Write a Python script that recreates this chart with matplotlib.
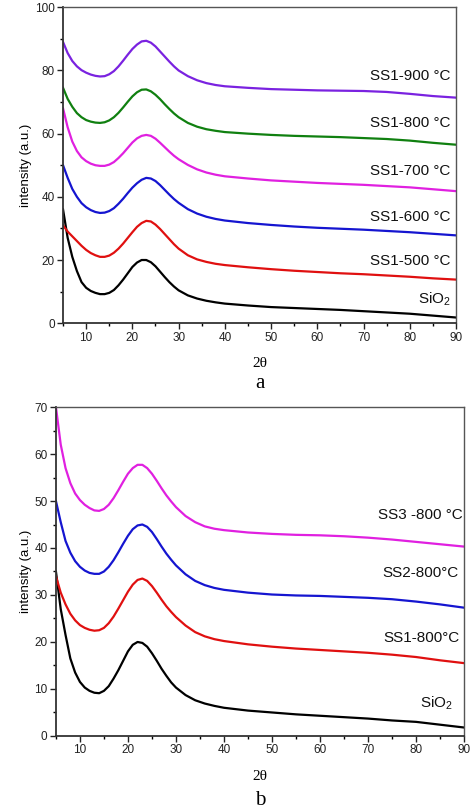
import matplotlib
matplotlib.use("Agg")
import matplotlib.pyplot as plt
from matplotlib.ticker import MultipleLocator

two_theta = [5, 6, 7, 8, 9, 10, 11, 12, 13, 14, 15, 16, 17, 18, 19, 20, 21, 22, 23, 24, 25,
             26, 27, 28, 29, 30, 32, 34, 36, 38, 40, 45, 50, 55, 60, 65, 70, 75, 80, 85, 90]

# Panel a
a_sio2 = [36, 27, 21, 16.5, 13, 11.2, 10.2, 9.6, 9.2, 9.2, 9.6, 10.5, 12, 13.8, 15.8, 17.8, 19.2, 20, 20, 19.3, 18,
          16.3, 14.6, 13, 11.6, 10.4, 8.8, 7.8, 7.1, 6.6, 6.2, 5.6, 5.1, 4.8, 4.5, 4.2, 3.8, 3.4, 3.0, 2.4, 1.8]
a_500 = [31, 29, 27.5, 26, 24.5, 23.2, 22.2, 21.5, 21, 21, 21.4, 22.3, 23.6, 25.2, 27, 28.8, 30.5, 31.7, 32.4, 32.2, 31.2,
         29.8, 28.2, 26.6, 25, 23.6, 21.5, 20.2, 19.4, 18.8, 18.4, 17.7, 17.1, 16.6, 16.2, 15.8, 15.5, 15.1, 14.7, 14.2, 13.8]
a_600 = [50, 46, 42.5, 40, 38, 36.7, 35.8, 35.2, 34.9, 35, 35.5, 36.4, 37.8, 39.4, 41.2, 42.9, 44.3, 45.4, 46, 45.8, 45,
         43.7, 42.2, 40.7, 39.3, 38.1, 36.1, 34.7, 33.7, 33, 32.5, 31.7, 31.1, 30.6, 30.2, 29.9, 29.6, 29.2, 28.8, 28.3, 27.8]
a_700 = [68, 62, 57.5, 54.5, 52.5, 51.3, 50.5, 50, 49.8, 49.8, 50.2, 51, 52.3, 53.8, 55.5, 57.2, 58.5, 59.3, 59.6, 59.3, 58.4,
         57.1, 55.7, 54.3, 53, 51.9, 50.1, 48.7, 47.7, 47, 46.5, 45.8, 45.2, 44.8, 44.4, 44.1, 43.8, 43.4, 43, 42.4, 41.8]
a_800 = [74.5, 71, 68.5, 66.5, 65.2, 64.3, 63.8, 63.5, 63.4, 63.6, 64.2, 65.2, 66.6, 68.3, 70.1, 71.8, 73.1, 73.9, 74, 73.4, 72.3,
         70.9, 69.3, 67.8, 66.4, 65.2, 63.4, 62.2, 61.4, 60.9, 60.5, 60, 59.6, 59.3, 59.1, 58.9, 58.6, 58.3, 57.8, 57.1, 56.5]
a_900 = [89, 85.5, 83, 81.3, 80.1, 79.3, 78.7, 78.3, 78.1, 78.2, 78.8, 79.8, 81.3, 83.1, 85, 86.8, 88.2, 89.2, 89.4, 88.8, 87.6,
         86, 84.4, 82.8, 81.3, 80, 78.2, 76.9, 76, 75.4, 75, 74.5, 74.1, 73.9, 73.7, 73.6, 73.5, 73.2, 72.6, 71.9, 71.4]

# Panel b
b_sio2 = [35, 27, 21.5, 16.5, 13.5, 11.5, 10.3, 9.6, 9.2, 9.1, 9.6, 10.6, 12.2, 14, 16, 18, 19.4, 20, 19.8, 19, 17.6,
          16, 14.3, 12.8, 11.4, 10.3, 8.7, 7.6, 6.9, 6.4, 6.0, 5.4, 5.0, 4.6, 4.3, 4.0, 3.7, 3.3, 3.0, 2.4, 1.8]
b_ss1 = [34, 30.5, 28, 26, 24.6, 23.6, 23, 22.6, 22.4, 22.5, 23, 24, 25.4, 27.1, 28.9, 30.7, 32.2, 33.2, 33.5, 33, 31.9,
         30.5, 29, 27.6, 26.4, 25.3, 23.5, 22.1, 21.2, 20.6, 20.2, 19.5, 19, 18.6, 18.3, 18, 17.7, 17.3, 16.8, 16.1, 15.5]
b_ss2 = [50, 45.5, 41.5, 39, 37.2, 36, 35.2, 34.7, 34.5, 34.5, 35, 36, 37.4, 39.1, 40.9, 42.6, 44, 44.8, 45, 44.5, 43.4,
         41.9, 40.3, 38.8, 37.5, 36.3, 34.4, 33, 32.1, 31.5, 31.1, 30.5, 30.1, 29.9, 29.8, 29.6, 29.4, 29.1, 28.6, 28, 27.3]
b_ss3 = [70, 62, 57, 53.8, 51.6, 50.2, 49.2, 48.5, 48, 47.9, 48.3, 49.2, 50.6, 52.3, 54.1, 55.8, 57, 57.7, 57.7, 57, 55.8,
         54.3, 52.7, 51.2, 49.9, 48.7, 46.8, 45.5, 44.6, 44.1, 43.8, 43.3, 43, 42.8, 42.7, 42.5, 42.2, 41.8, 41.3, 40.8, 40.3]

a_series = [a_sio2, a_500, a_600, a_700, a_800, a_900]
a_colors = ["#000000", "#e01010", "#1515d0", "#e020e0", "#108010", "#7a22e0"]
a_labels = ["SiO$_2$", "SS1-500 °C", "SS1-600 °C", "SS1-700 °C", "SS1-800 °C", "SS1-900 °C"]
a_label_y = [7.5, 19.7, 33.5, 48.2, 63.4, 78.2]

b_series = [b_sio2, b_ss1, b_ss2, b_ss3]
b_colors = ["#000000", "#e01010", "#1515d0", "#e020e0"]
b_labels = ["SiO$_2$", "SS1-800°C", "SS2-800°C", "SS3 -800 °C"]
b_label_y = [7.0, 20.8, 34.6, 47.1]

plt.rcParams['font.family'] = ['Liberation Sans', 'DejaVu Sans']
plt.rcParams['mathtext.fontset'] = 'custom'
plt.rcParams['mathtext.rm'] = 'Liberation Sans'

fig = plt.figure(figsize=(4.74, 8.10), dpi=100)
ax1 = fig.add_axes([0.133, 0.601, 0.829, 0.390])
ax2 = fig.add_axes([0.118, 0.0914, 0.861, 0.4061])


def style(ax, ymax, ymajor, yminor):
    ax.set_xlim(5, 90)
    ax.set_ylim(0, ymax)
    ax.xaxis.set_major_locator(MultipleLocator(10))
    ax.xaxis.set_minor_locator(MultipleLocator(5))
    ax.yaxis.set_major_locator(MultipleLocator(ymajor))
    ax.yaxis.set_minor_locator(MultipleLocator(yminor))
    ax.tick_params(which='major', direction='out', length=4, width=1, labelsize=8.5,
                   colors='#222222', pad=2, top=False, right=False)
    ax.tick_params(which='minor', direction='out', length=2.5, width=1, top=False, right=False)
    for s in ['left', 'bottom']:
        ax.spines[s].set_linewidth(1.3)
        ax.spines[s].set_color('#333333')
    for s in ['top', 'right']:
        ax.spines[s].set_linewidth(1.0)
        ax.spines[s].set_color('#555555')
    ax.set_ylabel("intensity (a.u.)", fontsize=9.5, labelpad=2)
    ax.set_xlabel("2θ", fontsize=11, family=['Liberation Serif', 'DejaVu Serif'], labelpad=10)


style(ax1, 100, 20, 10)
for ys, c in zip(a_series, a_colors):
    ax1.plot(two_theta, ys, color=c, lw=1.6)
for lab, ly in zip(a_labels, a_label_y):
    ax1.text(88.8, ly, lab, ha='right', va='center', fontsize=11, color='#111111')
ax1.text(0.5, -0.19, "a", transform=ax1.transAxes, ha='center', va='center',
         fontsize=15, family=['Liberation Serif', 'DejaVu Serif'])

style(ax2, 70, 10, 5)
for ys, c in zip(b_series, b_colors):
    ax2.plot(two_theta, ys, color=c, lw=1.6)
b_label_x = [87.7, 89.0, 88.8, 89.7]
for lab, ly, lx in zip(b_labels, b_label_y, b_label_x):
    ax2.text(lx, ly, lab, ha='right', va='center', fontsize=11, color='#111111')
ax2.text(0.5, -0.195, "b", transform=ax2.transAxes, ha='center', va='center',
         fontsize=15, family=['Liberation Serif', 'DejaVu Serif'])

fig.savefig("out.png", dpi=100)
